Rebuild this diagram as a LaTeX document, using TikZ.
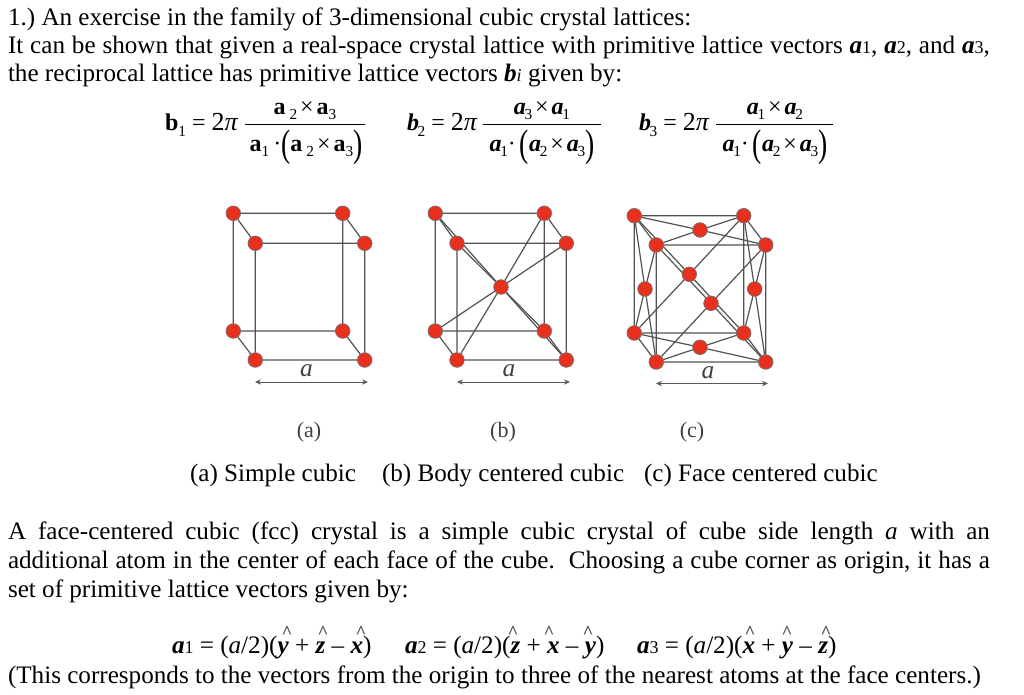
\documentclass[tikz,border=0pt]{standalone}
\usepackage{fontspec}
\setmainfont{Liberation Serif}
\usetikzlibrary{backgrounds,arrows.meta}
\definecolor{atomred}{HTML}{E8301F}
\frenchspacing
\newcommand\biv[1]{\textbf{\textit{#1}}}
\newcommand\sm[1]{{\fontsize{13.5}{15}\selectfont #1}}
\newcommand\sbs[1]{\raisebox{-0.22em}{\fontsize{11.5}{13}\selectfont #1}}
\newcommand\bigp[1]{\raisebox{-0.2em}{\scalebox{1.15}[1.6]{#1}}}
\newcommand\cross{\kern2.2pt×\kern2.2pt}
\newcommand\tpi{{\fontsize{19.5}{21}\selectfont 2\textit{π}}}
\tikzset{
  txt/.style={anchor=base west,inner sep=0pt,outer sep=0pt,font=\fontsize{18.85}{22}\selectfont},
  eqn/.style={anchor=base,inner sep=0pt,outer sep=0pt,font=\fontsize{18}{21}\selectfont},
  captxt/.style={anchor=base,inner sep=0pt,outer sep=0pt,text=black!75,font=\fontsize{16.5}{19}\selectfont},
  dimtxt/.style={anchor=base,inner sep=0pt,outer sep=0pt,text=black!75,font=\fontsize{19}{22}\selectfont\itshape},
  hatm/.style={anchor=center,inner sep=0pt,outer sep=0pt,text=black!70,font=\fontsize{14}{16}\selectfont\bfseries},
  atom/.style={circle,fill=atomred,draw=black!55,line width=0.5pt,minimum size=11pt,inner sep=0pt,outer sep=0pt},
  bond/.style={draw=black!68,line width=0.9pt},
  rulel/.style={draw=black,line width=0.6pt},
  dimline/.style={draw=black!65,line width=0.7pt,{Stealth[length=4.5pt,width=4pt]}-{Stealth[length=4.5pt,width=4pt]}}
}
\begin{document}
\begin{tikzpicture}[x=0.75pt,y=-0.75pt]
\useasboundingbox (0,0) rectangle (1024,695);
% ---------- header text
\node[txt] (t1) at (8,26) {1.) An exercise in the family of 3-dimensional cubic crystal lattices:};
\node[txt] (t2) at (8,54) {\makebox[736.5pt][s]{It can be shown that given a real-space crystal lattice with primitive lattice vectors \biv{a}\sm{1}, \biv{a}\sm{2}, and \biv{a}\sm{3},}};
\node[txt] (t3) at (8,82) {the reciprocal lattice has primitive lattice vectors \biv{b}\sm{\textit{i}} given by:};
% ---------- equations
\node[eqn,anchor=base west] (e1l) at (165,131) {\textbf{b}\sbs{1}\ = \tpi};
\coordinate (r1a) at (245,124.5); \coordinate (r1b) at (365,124.5);
\draw[rulel] (r1a) -- (r1b);
\node[eqn] (e1n) at (305,114.5) {\textbf{a}\,\sbs{2}\cross\textbf{a}\sbs{3}};
\node[eqn] (e1d) at (306,151.5) {\textbf{a}\sbs{1}\,·\bigp{(}\textbf{a}\,\sbs{2}\cross\textbf{a}\sbs{3}\bigp{)}};
\node[eqn,anchor=base west] (e2l) at (407,131) {\biv{b}\kern-1pt\sbs{2}\ = \tpi};
\coordinate (r2a) at (483,124.5); \coordinate (r2b) at (601,124.5);
\draw[rulel] (r2a) -- (r2b);
\node[eqn] (e2n) at (542,114.5) {\biv{a}\kern-1pt\sbs{3}\cross\biv{a}\kern-1pt\sbs{1}};
\node[eqn] (e2d) at (542,151.5) {\biv{a}\kern-1pt\sbs{1}·\,\bigp{(}\biv{a}\kern-1pt\sbs{2}\cross\biv{a}\kern-1pt\sbs{3}\bigp{)}};
\node[eqn,anchor=base west] (e3l) at (639,131) {\biv{b}\kern-1pt\sbs{3}\ = \tpi};
\coordinate (r3a) at (716,124.5); \coordinate (r3b) at (833,124.5);
\draw[rulel] (r3a) -- (r3b);
\node[eqn] (e3n) at (775,114.5) {\biv{a}\kern-1pt\sbs{1}\cross\biv{a}\kern-1pt\sbs{2}};
\node[eqn] (e3d) at (775,151.5) {\biv{a}\kern-1pt\sbs{1}·\,\bigp{(}\biv{a}\kern-1pt\sbs{2}\cross\biv{a}\kern-1pt\sbs{3}\bigp{)}};
% ---------- lattice (a)
\node[atom] (a1) at (233.3,213.3) {};
\node[atom] (a2) at (342.7,213.3) {};
\node[atom] (a3) at (255.3,243.3) {};
\node[atom] (a4) at (364.7,243.3) {};
\node[atom] (a5) at (233.3,331) {};
\node[atom] (a6) at (342.7,331) {};
\node[atom] (a7) at (255.3,360) {};
\node[atom] (a8) at (364.7,360) {};
% ---------- lattice (b)
\node[atom] (b1) at (435.3,213.3) {};
\node[atom] (b2) at (544.3,213.3) {};
\node[atom] (b3) at (457,243.3) {};
\node[atom] (b4) at (566.3,243.3) {};
\node[atom] (b5) at (435.3,331) {};
\node[atom] (b6) at (544.3,331) {};
\node[atom] (b7) at (457,360) {};
\node[atom] (b8) at (566.3,360) {};
\node[atom] (b9) at (501,287) {};
% ---------- lattice (c)
\node[atom] (c1) at (634.3,215.7) {};
\node[atom] (c2) at (743.7,215.7) {};
\node[atom] (c3) at (656.3,245) {};
\node[atom] (c4) at (765.7,245) {};
\node[atom] (c5) at (634.3,333) {};
\node[atom] (c6) at (743.7,333) {};
\node[atom] (c7) at (656.3,362) {};
\node[atom] (c8) at (765.7,362) {};
\node[atom] (ct) at (700,230) {};
\node[atom] (cb) at (700,347.3) {};
\node[atom] (cl) at (645,289) {};
\node[atom] (cr) at (754.7,289) {};
\node[atom] (cf) at (689.3,274.3) {};
\node[atom] (cg) at (711,303.3) {};
\begin{scope}[on background layer]
  \foreach \p in {a,b,c}{
    \draw[bond] (\p1)--(\p2) (\p2)--(\p6) (\p6)--(\p5) (\p5)--(\p1)
      (\p3)--(\p4) (\p4)--(\p8) (\p8)--(\p7) (\p7)--(\p3)
      (\p1)--(\p3) (\p2)--(\p4) (\p5)--(\p7) (\p6)--(\p8);
  }
  \foreach \q in {1,...,8}{\draw[bond] (b\q)--(b9);}
  \foreach \q in {1,2,3,4}{\draw[bond] (ct)--(c\q);}
  \foreach \q in {5,6,7,8}{\draw[bond] (cb)--(c\q);}
  \foreach \q in {1,3,5,7}{\draw[bond] (cl)--(c\q);}
  \foreach \q in {2,4,6,8}{\draw[bond] (cr)--(c\q);}
  \foreach \q in {1,2,5,6}{\draw[bond] (cf)--(c\q);}
  \foreach \q in {3,4,7,8}{\draw[bond] (cg)--(c\q);}
\end{scope}
% ---------- dimension arrows
\coordinate (da1) at (255,382); \coordinate (da2) at (368,382);
\coordinate (db1) at (457,382); \coordinate (db2) at (570,382);
\coordinate (dc1) at (656,383.5); \coordinate (dc2) at (768,383.5);
\draw[dimline] (da1) -- (da2);
\draw[dimline] (db1) -- (db2);
\draw[dimline] (dc1) -- (dc2);
\node[dimtxt] (la) at (306.5,376) {a};
\node[dimtxt] (lb) at (509,376) {a};
\node[dimtxt] (lc) at (708,378) {a};
\node[captxt] (ca) at (309,437) {(a)};
\node[captxt] (cbb) at (503,437) {(b)};
\node[captxt] (cc) at (692,437) {(c)};
% ---------- caption
\node[txt] (s1) at (190,481) {(a) Simple cubic};
\node[txt] (s2) at (382,481) {(b) Body centered cubic};
\node[txt] (s3) at (644,481) {(c) Face centered cubic};
% ---------- paragraph
\node[txt] (p1) at (8,539.5) {\makebox[736.5pt][s]{A face-centered cubic (fcc) crystal is a simple cubic crystal of cube side length \textit{a} with an}};
\node[txt] (p2) at (8,568.5) {\makebox[736.5pt][s]{additional atom in the center of each face of the cube.\ \ Choosing a cube corner as origin, it has a}};
\node[txt] (p3) at (8,597) {set of primitive lattice vectors given by:};
% ---------- vectors
\node[txt] (v1) at (172,653) {\biv{a}\sm{1} = (\textit{a}/2)(\biv{y} + \biv{z} – \biv{x})};
\node[txt] (v2) at (405,653) {\biv{a}\sm{2} = (\textit{a}/2)(\biv{z} + \biv{x} – \biv{y})};
\node[txt] (v3) at (637,653) {\biv{a}\sm{3} = (\textit{a}/2)(\biv{x} + \biv{y} – \biv{z})};
\foreach \hx in {287,323,361,513,549,588,750,787,826}{
  \node[hatm] (h\hx) at (\hx,632) {\^{}};
}
\node[txt] (t9) at (8,683) {(This corresponds to the vectors from the origin to three of the nearest atoms at the face centers.)};
\end{tikzpicture}
\end{document}
